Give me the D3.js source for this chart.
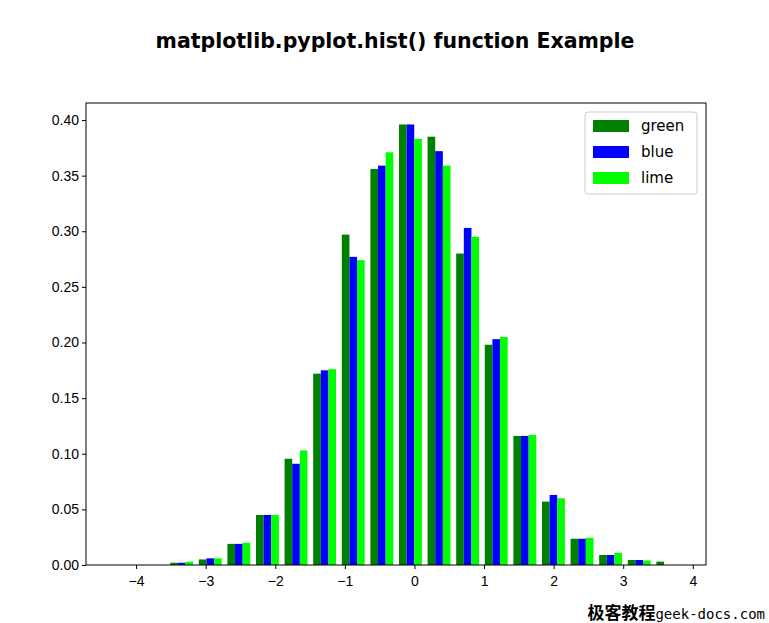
<!DOCTYPE html>
<html><head><meta charset="utf-8">
<script src="https://cdn.jsdelivr.net/npm/d3@7"></script>
<style>body{margin:0;background:#fff}svg{font-family:"DejaVu Sans",sans-serif}</style>
</head><body><div id="chart"></div>
<script>
// bin layout
const binStart = -3.51;
const binWidth = 0.411;
const seriesNames = ['green', 'blue', 'lime'];
const seriesColors = ['#008000', '#0000ff', '#00ff00'];
const greenVals = [0.002,0.005,0.019,0.045,0.0955,0.172,0.297,0.356,0.396,0.385,0.280,0.198,0.116,0.057,0.0236,0.009,0.0045,0.003];
const blueVals  = [0.002,0.006,0.019,0.045,0.091,0.175,0.277,0.359,0.396,0.372,0.303,0.203,0.116,0.063,0.0236,0.009,0.0045,0];
const limeVals  = [0.003,0.006,0.020,0.045,0.103,0.176,0.274,0.371,0.383,0.359,0.295,0.205,0.117,0.060,0.0245,0.011,0.004,0];
const xTicks = [-4,-3,-2,-1,0,1,2,3,4];
const yTicks = [0,0.05,0.10,0.15,0.20,0.25,0.30,0.35,0.40];

const W = 769, H = 623;
const m = {l: 86, r: 63, t: 103, b: 58};
const svg = d3.select('#chart').append('svg').attr('width', W).attr('height', H);

const x = d3.scaleLinear().domain([-4.72, 4.19]).range([m.l, W - m.r]);
const y = d3.scaleLinear().domain([0, 0.4153]).range([H - m.b, m.t]);

svg.append('text').attr('x', 395).attr('y', 48).attr('text-anchor', 'middle')
  .style('font-weight', 'bold').style('font-size', '20.5px').text('matplotlib.pyplot.hist() function Example');

const all = [greenVals, blueVals, limeVals];
const barW = binWidth * 0.8 / 3;
all.forEach((vals, s) => {
  svg.append('g').selectAll('rect').data(vals).join('rect')
    .attr('x', (d, i) => x(binStart + i * binWidth + s * barW))
    .attr('width', x(barW) - x(0))
    .attr('y', d => y(d))
    .attr('height', d => y(0) - y(d))
    .attr('fill', seriesColors[s]);
});

const xa = svg.append('g').attr('transform', `translate(0,${H - m.b})`)
  .call(d3.axisBottom(x).tickValues(xTicks).tickFormat(d => d < 0 ? '\u2212' + (-d) : d).tickSizeOuter(0).tickSize(4));
const ya = svg.append('g').attr('transform', `translate(${m.l},0)`)
  .call(d3.axisLeft(y).tickValues(yTicks).tickFormat(d3.format('.2f')).tickSizeOuter(0).tickSize(4));
[xa, ya].forEach(a => a.selectAll('text').style('font-size', '14px').attr('fill', '#000'));
xa.selectAll('text').attr('dy', '1.0em');
svg.append('rect').attr('x', m.l).attr('y', m.t).attr('width', W - m.r - m.l).attr('height', H - m.b - m.t)
  .attr('fill', 'none').attr('stroke', '#000').attr('stroke-width', 1);
svg.selectAll('.domain').remove();

const lg = svg.append('g').attr('transform', 'translate(585,112)');
lg.append('rect').attr('width', 112).attr('height', 82).attr('rx', 3)
  .attr('fill', '#fff').attr('stroke', '#ccc');
seriesNames.forEach((n, i) => {
  lg.append('rect').attr('x', 8).attr('y', 8 + i * 26).attr('width', 36).attr('height', 12).attr('fill', seriesColors[i]);
  lg.append('text').attr('x', 56).attr('y', 19 + i * 26).style('font-size', '15px').text(n);
});

svg.append('text').attr('x', 765).attr('y', 619).attr('text-anchor', 'end')
  .style('font-size', '17px')
  .html('<tspan font-family="Noto Sans CJK SC" font-weight="bold">极客教程</tspan><tspan font-family="DejaVu Sans Mono" font-size="14px">geek-docs.com</tspan>');
</script></body></html>
